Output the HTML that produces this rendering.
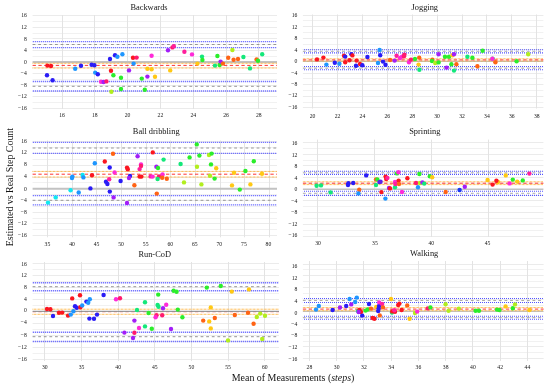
<!DOCTYPE html>
<html lang="en"><head><meta charset="utf-8"><title>Bland-Altman step count plots</title>
<style>html,body{margin:0;padding:0;background:#fff}svg{display:block}text{font-family:"Liberation Serif",serif;fill:#151515}</style>
</head><body>
<svg width="550" height="387" viewBox="0 0 550 387">
<rect width="550" height="387" fill="#ffffff"/>
<g>
<line x1="32.6" x2="277" y1="108.5" y2="108.5" stroke="#ebebeb" stroke-width="1"/>
<line x1="32.6" x2="277" y1="102.5" y2="102.5" stroke="#f1f1f1" stroke-width="1"/>
<line x1="32.6" x2="277" y1="96.5" y2="96.5" stroke="#ebebeb" stroke-width="1"/>
<line x1="32.6" x2="277" y1="91.5" y2="91.5" stroke="#f1f1f1" stroke-width="1"/>
<line x1="32.6" x2="277" y1="85.5" y2="85.5" stroke="#ebebeb" stroke-width="1"/>
<line x1="32.6" x2="277" y1="79.5" y2="79.5" stroke="#f1f1f1" stroke-width="1"/>
<line x1="32.6" x2="277" y1="73.5" y2="73.5" stroke="#ebebeb" stroke-width="1"/>
<line x1="32.6" x2="277" y1="67.5" y2="67.5" stroke="#f1f1f1" stroke-width="1"/>
<line x1="32.6" x2="277" y1="56.5" y2="56.5" stroke="#f1f1f1" stroke-width="1"/>
<line x1="32.6" x2="277" y1="50.5" y2="50.5" stroke="#ebebeb" stroke-width="1"/>
<line x1="32.6" x2="277" y1="44.5" y2="44.5" stroke="#f1f1f1" stroke-width="1"/>
<line x1="32.6" x2="277" y1="38.5" y2="38.5" stroke="#ebebeb" stroke-width="1"/>
<line x1="32.6" x2="277" y1="33.5" y2="33.5" stroke="#f1f1f1" stroke-width="1"/>
<line x1="32.6" x2="277" y1="27.5" y2="27.5" stroke="#ebebeb" stroke-width="1"/>
<line x1="32.6" x2="277" y1="21.5" y2="21.5" stroke="#f1f1f1" stroke-width="1"/>
<line x1="32.6" x2="277" y1="15.5" y2="15.5" stroke="#ebebeb" stroke-width="1"/>
<line x1="62.5" x2="62.5" y1="15" y2="109" stroke="#e3e3e3" stroke-width="1"/>
<line x1="94.5" x2="94.5" y1="15" y2="109" stroke="#e3e3e3" stroke-width="1"/>
<line x1="127.5" x2="127.5" y1="15" y2="109" stroke="#e3e3e3" stroke-width="1"/>
<line x1="160.5" x2="160.5" y1="15" y2="109" stroke="#e3e3e3" stroke-width="1"/>
<line x1="193.5" x2="193.5" y1="15" y2="109" stroke="#e3e3e3" stroke-width="1"/>
<line x1="226.5" x2="226.5" y1="15" y2="109" stroke="#e3e3e3" stroke-width="1"/>
<line x1="258.5" x2="258.5" y1="15" y2="109" stroke="#e3e3e3" stroke-width="1"/>
<line x1="32.6" x2="277" y1="62" y2="62" stroke="#c2c2c2" stroke-width="1.9"/>
<line x1="32.6" x2="277" y1="44.5" y2="44.5" stroke="#969696" stroke-width="1.0" stroke-dasharray="2.8 2.8"/>
<line x1="32.6" x2="277" y1="41.6" y2="41.6" stroke="#5454ff" stroke-width="1.35" stroke-dasharray="1 1" stroke-dashoffset="1.8"/>
<line x1="32.6" x2="277" y1="47.6" y2="47.6" stroke="#5454ff" stroke-width="1.35" stroke-dasharray="1 1" stroke-dashoffset="1.8"/>
<line x1="32.6" x2="277" y1="86.3" y2="86.3" stroke="#969696" stroke-width="1.0" stroke-dasharray="2.8 2.8"/>
<line x1="32.6" x2="277" y1="81.5" y2="81.5" stroke="#5454ff" stroke-width="1.35" stroke-dasharray="1 1" stroke-dashoffset="1.8"/>
<line x1="32.6" x2="277" y1="91" y2="91" stroke="#5454ff" stroke-width="1.35" stroke-dasharray="1 1" stroke-dashoffset="1.8"/>
<line x1="32.6" x2="277" y1="63.3" y2="63.3" stroke="#ffa010" stroke-width="1" stroke-dasharray="0.7 0.66"/>
<line x1="32.6" x2="277" y1="68" y2="68" stroke="#ffa010" stroke-width="1" stroke-dasharray="0.7 0.66"/>
<line x1="32.6" x2="277" y1="65.4" y2="65.4" stroke="#ff3434" stroke-width="1" stroke-dasharray="3.3 2.5"/>
<circle cx="47.4" cy="65.6" r="2.2" fill="#fb1620"/>
<circle cx="51" cy="66" r="2.2" fill="#fb1620"/>
<circle cx="47" cy="75.2" r="2.2" fill="#2a1cf6"/>
<circle cx="52.6" cy="80.2" r="2.2" fill="#2a1cf6"/>
<circle cx="75.2" cy="68.8" r="2.2" fill="#1e96ff"/>
<circle cx="81" cy="65.8" r="2.2" fill="#2a1cf6"/>
<circle cx="91.6" cy="64.8" r="2.2" fill="#2a1cf6"/>
<circle cx="94.4" cy="65.2" r="2.2" fill="#2a1cf6"/>
<circle cx="95.2" cy="72.6" r="2.2" fill="#1e96ff"/>
<circle cx="97.8" cy="74.2" r="2.2" fill="#2a1cf6"/>
<circle cx="101" cy="81.7" r="2.2" fill="#ff2ad8"/>
<circle cx="103.6" cy="82" r="2.2" fill="#a21ef8"/>
<circle cx="106.4" cy="81.4" r="2.2" fill="#ff1a6e"/>
<circle cx="110" cy="59" r="2.2" fill="#2a1cf6"/>
<circle cx="111" cy="70.8" r="2.2" fill="#fb1620"/>
<circle cx="111.4" cy="91.8" r="2.2" fill="#b2ee1e"/>
<circle cx="113.4" cy="75.2" r="2.2" fill="#2bee2b"/>
<circle cx="115" cy="55.2" r="2.2" fill="#2a1cf6"/>
<circle cx="117.4" cy="56.8" r="2.2" fill="#1e96ff"/>
<circle cx="122.4" cy="54.2" r="2.2" fill="#1e96ff"/>
<circle cx="121" cy="77.8" r="2.2" fill="#2bee2b"/>
<circle cx="121" cy="89" r="2.2" fill="#2bee2b"/>
<circle cx="129" cy="70.4" r="2.2" fill="#a21ef8"/>
<circle cx="133" cy="57.8" r="2.2" fill="#fb1620"/>
<circle cx="136.6" cy="57.6" r="2.2" fill="#ff1a6e"/>
<circle cx="133.6" cy="63.6" r="2.2" fill="#1e96ff"/>
<circle cx="141.8" cy="78.6" r="2.2" fill="#2bee2b"/>
<circle cx="144.8" cy="89.8" r="2.2" fill="#2bee2b"/>
<circle cx="147.4" cy="76.6" r="2.2" fill="#a21ef8"/>
<circle cx="147.4" cy="68.8" r="2.2" fill="#ffc814"/>
<circle cx="151.6" cy="69.2" r="2.2" fill="#ffc814"/>
<circle cx="151.6" cy="55.8" r="2.2" fill="#ff2ad8"/>
<circle cx="155" cy="76.8" r="2.2" fill="#ffc814"/>
<circle cx="168" cy="50.2" r="2.2" fill="#a21ef8"/>
<circle cx="172.4" cy="47.4" r="2.2" fill="#ff1a6e"/>
<circle cx="173.8" cy="46.2" r="2.2" fill="#ff1f9c"/>
<circle cx="170.2" cy="70.4" r="2.2" fill="#ffc814"/>
<circle cx="184.4" cy="51.8" r="2.2" fill="#ff1f9c"/>
<circle cx="192" cy="54.4" r="2.2" fill="#ff2ad8"/>
<circle cx="197.4" cy="63.6" r="2.2" fill="#ffc814"/>
<circle cx="202" cy="56.6" r="2.2" fill="#14e87a"/>
<circle cx="202.4" cy="60" r="2.2" fill="#2bee2b"/>
<circle cx="215" cy="65.6" r="2.2" fill="#14e87a"/>
<circle cx="217.4" cy="56" r="2.2" fill="#2bee2b"/>
<circle cx="219.6" cy="65" r="2.2" fill="#2bee2b"/>
<circle cx="220.6" cy="61.6" r="2.2" fill="#a21ef8"/>
<circle cx="223" cy="63.6" r="2.2" fill="#ff6314"/>
<circle cx="228.2" cy="57.8" r="2.2" fill="#ff6314"/>
<circle cx="232.4" cy="50" r="2.2" fill="#b2ee1e"/>
<circle cx="233.6" cy="59.8" r="2.2" fill="#ff6314"/>
<circle cx="238" cy="59" r="2.2" fill="#ff6314"/>
<circle cx="243.4" cy="57" r="2.2" fill="#14e87a"/>
<circle cx="250" cy="68.4" r="2.2" fill="#14e87a"/>
<circle cx="256.6" cy="59.4" r="2.2" fill="#ff6314"/>
<circle cx="258" cy="60.8" r="2.2" fill="#2bee2b"/>
<circle cx="262.2" cy="54.2" r="2.2" fill="#14e87a"/>
<text transform="translate(26.8,17.38) scale(0.86,1)" font-size="6.6" text-anchor="end">16</text>
<text transform="translate(26.8,29.48) scale(0.86,1)" font-size="6.6" text-anchor="end">12</text>
<text transform="translate(26.8,40.78) scale(0.86,1)" font-size="6.6" text-anchor="end">8</text>
<text transform="translate(26.8,52.28) scale(0.86,1)" font-size="6.6" text-anchor="end">4</text>
<text transform="translate(26.8,63.78) scale(0.86,1)" font-size="6.6" text-anchor="end">0</text>
<text transform="translate(26.8,75.08) scale(0.86,1)" font-size="6.6" text-anchor="end">−4</text>
<text transform="translate(26.8,86.58) scale(0.86,1)" font-size="6.6" text-anchor="end">−8</text>
<text transform="translate(26.8,98.18) scale(0.86,1)" font-size="6.6" text-anchor="end">−12</text>
<text transform="translate(26.8,109.98) scale(0.86,1)" font-size="6.6" text-anchor="end">−16</text>
<text transform="translate(62,117.38) scale(0.86,1)" font-size="6.6" text-anchor="middle">16</text>
<text transform="translate(94.8,117.38) scale(0.86,1)" font-size="6.6" text-anchor="middle">18</text>
<text transform="translate(127.6,117.38) scale(0.86,1)" font-size="6.6" text-anchor="middle">20</text>
<text transform="translate(160.4,117.38) scale(0.86,1)" font-size="6.6" text-anchor="middle">22</text>
<text transform="translate(193.2,117.38) scale(0.86,1)" font-size="6.6" text-anchor="middle">24</text>
<text transform="translate(226,117.38) scale(0.86,1)" font-size="6.6" text-anchor="middle">26</text>
<text transform="translate(258.8,117.38) scale(0.86,1)" font-size="6.6" text-anchor="middle">28</text>
<text x="149" y="10.3" font-size="8.4" text-anchor="middle">Backwards</text>
</g>
<g>
<line x1="302.9" x2="543.4" y1="107.5" y2="107.5" stroke="#ebebeb" stroke-width="1"/>
<line x1="302.9" x2="543.4" y1="102.5" y2="102.5" stroke="#f1f1f1" stroke-width="1"/>
<line x1="302.9" x2="543.4" y1="96.5" y2="96.5" stroke="#ebebeb" stroke-width="1"/>
<line x1="302.9" x2="543.4" y1="90.5" y2="90.5" stroke="#f1f1f1" stroke-width="1"/>
<line x1="302.9" x2="543.4" y1="84.5" y2="84.5" stroke="#ebebeb" stroke-width="1"/>
<line x1="302.9" x2="543.4" y1="78.5" y2="78.5" stroke="#f1f1f1" stroke-width="1"/>
<line x1="302.9" x2="543.4" y1="73.5" y2="73.5" stroke="#ebebeb" stroke-width="1"/>
<line x1="302.9" x2="543.4" y1="67.5" y2="67.5" stroke="#f1f1f1" stroke-width="1"/>
<line x1="302.9" x2="543.4" y1="55.5" y2="55.5" stroke="#f1f1f1" stroke-width="1"/>
<line x1="302.9" x2="543.4" y1="49.5" y2="49.5" stroke="#ebebeb" stroke-width="1"/>
<line x1="302.9" x2="543.4" y1="44.5" y2="44.5" stroke="#f1f1f1" stroke-width="1"/>
<line x1="302.9" x2="543.4" y1="38.5" y2="38.5" stroke="#ebebeb" stroke-width="1"/>
<line x1="302.9" x2="543.4" y1="32.5" y2="32.5" stroke="#f1f1f1" stroke-width="1"/>
<line x1="302.9" x2="543.4" y1="26.5" y2="26.5" stroke="#ebebeb" stroke-width="1"/>
<line x1="302.9" x2="543.4" y1="20.5" y2="20.5" stroke="#f1f1f1" stroke-width="1"/>
<line x1="302.9" x2="543.4" y1="15.5" y2="15.5" stroke="#ebebeb" stroke-width="1"/>
<line x1="312.5" x2="312.5" y1="14.5" y2="108.5" stroke="#e3e3e3" stroke-width="1"/>
<line x1="337.5" x2="337.5" y1="14.5" y2="108.5" stroke="#e3e3e3" stroke-width="1"/>
<line x1="362.5" x2="362.5" y1="14.5" y2="108.5" stroke="#e3e3e3" stroke-width="1"/>
<line x1="387.5" x2="387.5" y1="14.5" y2="108.5" stroke="#e3e3e3" stroke-width="1"/>
<line x1="412.5" x2="412.5" y1="14.5" y2="108.5" stroke="#e3e3e3" stroke-width="1"/>
<line x1="437.5" x2="437.5" y1="14.5" y2="108.5" stroke="#e3e3e3" stroke-width="1"/>
<line x1="462.5" x2="462.5" y1="14.5" y2="108.5" stroke="#e3e3e3" stroke-width="1"/>
<line x1="486.5" x2="486.5" y1="14.5" y2="108.5" stroke="#e3e3e3" stroke-width="1"/>
<line x1="511.5" x2="511.5" y1="14.5" y2="108.5" stroke="#e3e3e3" stroke-width="1"/>
<line x1="536.5" x2="536.5" y1="14.5" y2="108.5" stroke="#e3e3e3" stroke-width="1"/>
<line x1="302.9" x2="543.4" y1="61.4" y2="61.4" stroke="#c2c2c2" stroke-width="1.4"/>
<line x1="302.9" x2="543.4" y1="51.3" y2="51.3" stroke="#969696" stroke-width="0.8" stroke-dasharray="2.8 2.8"/>
<line x1="302.9" x2="543.4" y1="49.7" y2="49.7" stroke="#5454ff" stroke-width="1.1" stroke-dasharray="1 1" stroke-dashoffset="0.9"/>
<line x1="302.9" x2="543.4" y1="52.9" y2="52.9" stroke="#5454ff" stroke-width="1.1" stroke-dasharray="1 1" stroke-dashoffset="0.9"/>
<line x1="302.9" x2="543.4" y1="68.2" y2="68.2" stroke="#969696" stroke-width="0.8" stroke-dasharray="2.8 2.8"/>
<line x1="302.9" x2="543.4" y1="66.5" y2="66.5" stroke="#5454ff" stroke-width="1.1" stroke-dasharray="1 1" stroke-dashoffset="0.9"/>
<line x1="302.9" x2="543.4" y1="69.8" y2="69.8" stroke="#5454ff" stroke-width="1.1" stroke-dasharray="1 1" stroke-dashoffset="0.9"/>
<line x1="302.9" x2="543.4" y1="58.8" y2="58.8" stroke="#ffa010" stroke-width="1" stroke-dasharray="0.7 0.66"/>
<line x1="302.9" x2="543.4" y1="61" y2="61" stroke="#ffa010" stroke-width="1" stroke-dasharray="0.7 0.66"/>
<line x1="302.9" x2="543.4" y1="59.9" y2="59.9" stroke="#ff3434" stroke-width="1" stroke-dasharray="3.3 2.5"/>
<circle cx="317" cy="59.4" r="2.2" fill="#fb1620"/>
<circle cx="323.4" cy="57.6" r="2.2" fill="#fb1620"/>
<circle cx="326.4" cy="64.6" r="2.2" fill="#1e96ff"/>
<circle cx="334.8" cy="62.8" r="2.2" fill="#2a1cf6"/>
<circle cx="339.4" cy="63.8" r="2.2" fill="#1e96ff"/>
<circle cx="344" cy="55.8" r="2.2" fill="#fb1620"/>
<circle cx="345.2" cy="56.6" r="2.2" fill="#2a1cf6"/>
<circle cx="345.2" cy="62.2" r="2.2" fill="#fb1620"/>
<circle cx="349.4" cy="60.2" r="2.2" fill="#fb1620"/>
<circle cx="351.4" cy="54.2" r="2.2" fill="#2a1cf6"/>
<circle cx="352.4" cy="55.4" r="2.2" fill="#fb1620"/>
<circle cx="356" cy="65.8" r="2.2" fill="#2a1cf6"/>
<circle cx="356.6" cy="60.6" r="2.2" fill="#fb1620"/>
<circle cx="360" cy="64" r="2.2" fill="#fb1620"/>
<circle cx="362.4" cy="65.2" r="2.2" fill="#2a1cf6"/>
<circle cx="367.4" cy="57" r="2.2" fill="#2a1cf6"/>
<circle cx="378" cy="63" r="2.2" fill="#1e96ff"/>
<circle cx="379.6" cy="50" r="2.2" fill="#1e96ff"/>
<circle cx="380.2" cy="55.3" r="2.2" fill="#2a1cf6"/>
<circle cx="383" cy="61.6" r="2.2" fill="#2a1cf6"/>
<circle cx="385.5" cy="64.8" r="2.2" fill="#2a1cf6"/>
<circle cx="390" cy="60" r="2.2" fill="#ff6314"/>
<circle cx="394.6" cy="60.6" r="2.2" fill="#a21ef8"/>
<circle cx="396.6" cy="55.8" r="2.2" fill="#ff1f9c"/>
<circle cx="400" cy="58" r="2.2" fill="#ff2ad8"/>
<circle cx="402" cy="56.6" r="2.2" fill="#ff2ad8"/>
<circle cx="404.4" cy="54.6" r="2.2" fill="#ff1a6e"/>
<circle cx="404" cy="56.2" r="2.2" fill="#ff1a6e"/>
<circle cx="409" cy="62.2" r="2.2" fill="#ff2ad8"/>
<circle cx="411" cy="59.6" r="2.2" fill="#ff1a6e"/>
<circle cx="415" cy="59" r="2.2" fill="#2bee2b"/>
<circle cx="419.2" cy="57.6" r="2.2" fill="#ff6314"/>
<circle cx="418.6" cy="64.6" r="2.2" fill="#ffc814"/>
<circle cx="419.4" cy="69.8" r="2.2" fill="#14e87a"/>
<circle cx="432.4" cy="59.8" r="2.2" fill="#ff6314"/>
<circle cx="432" cy="61" r="2.2" fill="#2bee2b"/>
<circle cx="435.2" cy="63" r="2.2" fill="#b2ee1e"/>
<circle cx="438.6" cy="62.4" r="2.2" fill="#2bee2b"/>
<circle cx="438.6" cy="54.2" r="2.2" fill="#a21ef8"/>
<circle cx="445" cy="56.8" r="2.2" fill="#2bee2b"/>
<circle cx="449" cy="56.8" r="2.2" fill="#2bee2b"/>
<circle cx="446.6" cy="67.6" r="2.2" fill="#a21ef8"/>
<circle cx="452.4" cy="55.2" r="2.2" fill="#ffc814"/>
<circle cx="454" cy="54.2" r="2.2" fill="#a21ef8"/>
<circle cx="451.4" cy="64.2" r="2.2" fill="#2bee2b"/>
<circle cx="454" cy="70.6" r="2.2" fill="#14e87a"/>
<circle cx="456.4" cy="64.2" r="2.2" fill="#ff6314"/>
<circle cx="467.4" cy="56.8" r="2.2" fill="#14e87a"/>
<circle cx="472.4" cy="57.8" r="2.2" fill="#2bee2b"/>
<circle cx="477.4" cy="66.2" r="2.2" fill="#ff6314"/>
<circle cx="482.6" cy="50.8" r="2.2" fill="#2bee2b"/>
<circle cx="492.6" cy="58.6" r="2.2" fill="#14e87a"/>
<circle cx="492.4" cy="58.8" r="2.2" fill="#ff2ad8"/>
<circle cx="495.4" cy="62.2" r="2.2" fill="#ff6314"/>
<circle cx="516.6" cy="61.2" r="2.2" fill="#2bee2b"/>
<circle cx="528.2" cy="54.2" r="2.2" fill="#b2ee1e"/>
<text transform="translate(297.4,16.98) scale(0.86,1)" font-size="6.6" text-anchor="end">16</text>
<text transform="translate(297.4,28.78) scale(0.86,1)" font-size="6.6" text-anchor="end">12</text>
<text transform="translate(297.4,40.18) scale(0.86,1)" font-size="6.6" text-anchor="end">8</text>
<text transform="translate(297.4,51.78) scale(0.86,1)" font-size="6.6" text-anchor="end">4</text>
<text transform="translate(297.4,63.18) scale(0.86,1)" font-size="6.6" text-anchor="end">0</text>
<text transform="translate(297.4,74.58) scale(0.86,1)" font-size="6.6" text-anchor="end">−4</text>
<text transform="translate(297.4,85.78) scale(0.86,1)" font-size="6.6" text-anchor="end">−8</text>
<text transform="translate(297.4,97.18) scale(0.86,1)" font-size="6.6" text-anchor="end">−12</text>
<text transform="translate(297.4,108.98) scale(0.86,1)" font-size="6.6" text-anchor="end">−16</text>
<text transform="translate(312.6,117.58) scale(0.86,1)" font-size="6.6" text-anchor="middle">20</text>
<text transform="translate(337.5,117.58) scale(0.86,1)" font-size="6.6" text-anchor="middle">22</text>
<text transform="translate(362.4,117.58) scale(0.86,1)" font-size="6.6" text-anchor="middle">24</text>
<text transform="translate(387.3,117.58) scale(0.86,1)" font-size="6.6" text-anchor="middle">26</text>
<text transform="translate(412.2,117.58) scale(0.86,1)" font-size="6.6" text-anchor="middle">28</text>
<text transform="translate(437.1,117.58) scale(0.86,1)" font-size="6.6" text-anchor="middle">30</text>
<text transform="translate(462,117.58) scale(0.86,1)" font-size="6.6" text-anchor="middle">32</text>
<text transform="translate(486.9,117.58) scale(0.86,1)" font-size="6.6" text-anchor="middle">34</text>
<text transform="translate(511.8,117.58) scale(0.86,1)" font-size="6.6" text-anchor="middle">36</text>
<text transform="translate(536.7,117.58) scale(0.86,1)" font-size="6.6" text-anchor="middle">38</text>
<text x="424.8" y="10.2" font-size="8.4" text-anchor="middle">Jogging</text>
</g>
<g>
<line x1="32.6" x2="277" y1="235.5" y2="235.5" stroke="#ebebeb" stroke-width="1"/>
<line x1="32.6" x2="277" y1="229.5" y2="229.5" stroke="#f1f1f1" stroke-width="1"/>
<line x1="32.6" x2="277" y1="223.5" y2="223.5" stroke="#ebebeb" stroke-width="1"/>
<line x1="32.6" x2="277" y1="218.5" y2="218.5" stroke="#f1f1f1" stroke-width="1"/>
<line x1="32.6" x2="277" y1="212.5" y2="212.5" stroke="#ebebeb" stroke-width="1"/>
<line x1="32.6" x2="277" y1="206.5" y2="206.5" stroke="#f1f1f1" stroke-width="1"/>
<line x1="32.6" x2="277" y1="200.5" y2="200.5" stroke="#ebebeb" stroke-width="1"/>
<line x1="32.6" x2="277" y1="194.5" y2="194.5" stroke="#f1f1f1" stroke-width="1"/>
<line x1="32.6" x2="277" y1="182.5" y2="182.5" stroke="#f1f1f1" stroke-width="1"/>
<line x1="32.6" x2="277" y1="177.5" y2="177.5" stroke="#ebebeb" stroke-width="1"/>
<line x1="32.6" x2="277" y1="171.5" y2="171.5" stroke="#f1f1f1" stroke-width="1"/>
<line x1="32.6" x2="277" y1="165.5" y2="165.5" stroke="#ebebeb" stroke-width="1"/>
<line x1="32.6" x2="277" y1="159.5" y2="159.5" stroke="#f1f1f1" stroke-width="1"/>
<line x1="32.6" x2="277" y1="153.5" y2="153.5" stroke="#ebebeb" stroke-width="1"/>
<line x1="32.6" x2="277" y1="147.5" y2="147.5" stroke="#f1f1f1" stroke-width="1"/>
<line x1="32.6" x2="277" y1="141.5" y2="141.5" stroke="#ebebeb" stroke-width="1"/>
<line x1="47.5" x2="47.5" y1="140.5" y2="237.3" stroke="#e3e3e3" stroke-width="1"/>
<line x1="72.5" x2="72.5" y1="140.5" y2="237.3" stroke="#e3e3e3" stroke-width="1"/>
<line x1="96.5" x2="96.5" y1="140.5" y2="237.3" stroke="#e3e3e3" stroke-width="1"/>
<line x1="121.5" x2="121.5" y1="140.5" y2="237.3" stroke="#e3e3e3" stroke-width="1"/>
<line x1="146.5" x2="146.5" y1="140.5" y2="237.3" stroke="#e3e3e3" stroke-width="1"/>
<line x1="170.5" x2="170.5" y1="140.5" y2="237.3" stroke="#e3e3e3" stroke-width="1"/>
<line x1="195.5" x2="195.5" y1="140.5" y2="237.3" stroke="#e3e3e3" stroke-width="1"/>
<line x1="220.5" x2="220.5" y1="140.5" y2="237.3" stroke="#e3e3e3" stroke-width="1"/>
<line x1="244.5" x2="244.5" y1="140.5" y2="237.3" stroke="#e3e3e3" stroke-width="1"/>
<line x1="269.5" x2="269.5" y1="140.5" y2="237.3" stroke="#e3e3e3" stroke-width="1"/>
<line x1="32.6" x2="277" y1="188.8" y2="188.8" stroke="#c2c2c2" stroke-width="1.9"/>
<line x1="32.6" x2="277" y1="148" y2="148" stroke="#969696" stroke-width="1.0" stroke-dasharray="2.8 2.8"/>
<line x1="32.6" x2="277" y1="142.4" y2="142.4" stroke="#5454ff" stroke-width="1.35" stroke-dasharray="1 1" stroke-dashoffset="1.8"/>
<line x1="32.6" x2="277" y1="153.4" y2="153.4" stroke="#5454ff" stroke-width="1.35" stroke-dasharray="1 1" stroke-dashoffset="1.8"/>
<line x1="32.6" x2="277" y1="200.3" y2="200.3" stroke="#969696" stroke-width="1.0" stroke-dasharray="2.8 2.8"/>
<line x1="32.6" x2="277" y1="195.6" y2="195.6" stroke="#5454ff" stroke-width="1.35" stroke-dasharray="1 1" stroke-dashoffset="1.8"/>
<line x1="32.6" x2="277" y1="204.8" y2="204.8" stroke="#5454ff" stroke-width="1.35" stroke-dasharray="1 1" stroke-dashoffset="1.8"/>
<line x1="32.6" x2="277" y1="171.4" y2="171.4" stroke="#ffa010" stroke-width="1" stroke-dasharray="0.7 0.66"/>
<line x1="32.6" x2="277" y1="177" y2="177" stroke="#ffa010" stroke-width="1" stroke-dasharray="0.7 0.66"/>
<line x1="32.6" x2="277" y1="174.2" y2="174.2" stroke="#ff3434" stroke-width="1" stroke-dasharray="3.3 2.5"/>
<circle cx="48" cy="202.6" r="2.2" fill="#10e8f0"/>
<circle cx="55.7" cy="197.4" r="2.2" fill="#10e8f0"/>
<circle cx="70.6" cy="190.2" r="2.2" fill="#10e8f0"/>
<circle cx="72.4" cy="176.6" r="2.2" fill="#1e96ff"/>
<circle cx="72" cy="178" r="2.2" fill="#1e96ff"/>
<circle cx="78.7" cy="192.5" r="2.2" fill="#1e96ff"/>
<circle cx="82.6" cy="175" r="2.2" fill="#10e8f0"/>
<circle cx="83.4" cy="177.4" r="2.2" fill="#1e96ff"/>
<circle cx="90.4" cy="188.4" r="2.2" fill="#2a1cf6"/>
<circle cx="92" cy="175.2" r="2.2" fill="#fb1620"/>
<circle cx="94.8" cy="163.2" r="2.2" fill="#1e96ff"/>
<circle cx="104.8" cy="161.5" r="2.2" fill="#fb1620"/>
<circle cx="109.7" cy="167.5" r="2.2" fill="#2a1cf6"/>
<circle cx="106" cy="181.7" r="2.2" fill="#2a1cf6"/>
<circle cx="107.4" cy="184" r="2.2" fill="#2a1cf6"/>
<circle cx="109.2" cy="179.2" r="2.2" fill="#ff1f9c"/>
<circle cx="109.8" cy="191.6" r="2.2" fill="#2a1cf6"/>
<circle cx="113" cy="153.8" r="2.2" fill="#ff6314"/>
<circle cx="114.6" cy="172.4" r="2.2" fill="#ff2ad8"/>
<circle cx="113.6" cy="197.4" r="2.2" fill="#a21ef8"/>
<circle cx="120.6" cy="181" r="2.2" fill="#2a1cf6"/>
<circle cx="127" cy="167.6" r="2.2" fill="#fb1620"/>
<circle cx="127.8" cy="169.2" r="2.2" fill="#fb1620"/>
<circle cx="130" cy="176" r="2.2" fill="#2a1cf6"/>
<circle cx="129" cy="178" r="2.2" fill="#a21ef8"/>
<circle cx="127" cy="203" r="2.2" fill="#a21ef8"/>
<circle cx="134.4" cy="185.2" r="2.2" fill="#ff6314"/>
<circle cx="137.6" cy="156.3" r="2.2" fill="#a21ef8"/>
<circle cx="141" cy="164.4" r="2.2" fill="#ff2ad8"/>
<circle cx="141" cy="166" r="2.2" fill="#ff1a6e"/>
<circle cx="139.6" cy="169.1" r="2.2" fill="#ff1f9c"/>
<circle cx="139.6" cy="176.6" r="2.2" fill="#fb1620"/>
<circle cx="141.4" cy="176.6" r="2.2" fill="#fb1620"/>
<circle cx="152.8" cy="152.4" r="2.2" fill="#fb1620"/>
<circle cx="150.6" cy="176.4" r="2.2" fill="#ff1f9c"/>
<circle cx="152.6" cy="176.6" r="2.2" fill="#ff2ad8"/>
<circle cx="156.4" cy="166.8" r="2.2" fill="#a21ef8"/>
<circle cx="158" cy="168" r="2.2" fill="#2bee2b"/>
<circle cx="163.6" cy="159.6" r="2.2" fill="#14e87a"/>
<circle cx="162.6" cy="174.4" r="2.2" fill="#ff2ad8"/>
<circle cx="159" cy="176.4" r="2.2" fill="#ff1a6e"/>
<circle cx="157.6" cy="179" r="2.2" fill="#14e87a"/>
<circle cx="162.2" cy="177.8" r="2.2" fill="#ff6314"/>
<circle cx="166.8" cy="178.8" r="2.2" fill="#ff6314"/>
<circle cx="156.8" cy="193.6" r="2.2" fill="#ff6314"/>
<circle cx="180.6" cy="164" r="2.2" fill="#14e87a"/>
<circle cx="184" cy="182.4" r="2.2" fill="#b2ee1e"/>
<circle cx="189.6" cy="157.4" r="2.2" fill="#2bee2b"/>
<circle cx="196.8" cy="144.4" r="2.2" fill="#2bee2b"/>
<circle cx="199.4" cy="155.6" r="2.2" fill="#2bee2b"/>
<circle cx="197" cy="166.7" r="2.2" fill="#b2ee1e"/>
<circle cx="201.4" cy="184.4" r="2.2" fill="#b2ee1e"/>
<circle cx="209" cy="155" r="2.2" fill="#b2ee1e"/>
<circle cx="211.6" cy="153.6" r="2.2" fill="#2bee2b"/>
<circle cx="211" cy="164.4" r="2.2" fill="#2bee2b"/>
<circle cx="210" cy="175.7" r="2.2" fill="#b2ee1e"/>
<circle cx="214.6" cy="178.6" r="2.2" fill="#2bee2b"/>
<circle cx="216.2" cy="168.2" r="2.2" fill="#ffc814"/>
<circle cx="234" cy="172.8" r="2.2" fill="#ffc814"/>
<circle cx="232" cy="185.4" r="2.2" fill="#ffc814"/>
<circle cx="239.8" cy="189.6" r="2.2" fill="#2bee2b"/>
<circle cx="245.4" cy="171" r="2.2" fill="#2bee2b"/>
<circle cx="250.4" cy="184.4" r="2.2" fill="#ffc814"/>
<circle cx="253.8" cy="161.2" r="2.2" fill="#2bee2b"/>
<circle cx="262" cy="173.8" r="2.2" fill="#ffc814"/>
<text transform="translate(26.8,142.78) scale(0.86,1)" font-size="6.6" text-anchor="end">16</text>
<text transform="translate(26.8,154.18) scale(0.86,1)" font-size="6.6" text-anchor="end">12</text>
<text transform="translate(26.8,166.18) scale(0.86,1)" font-size="6.6" text-anchor="end">8</text>
<text transform="translate(26.8,177.98) scale(0.86,1)" font-size="6.6" text-anchor="end">4</text>
<text transform="translate(26.8,190.58) scale(0.86,1)" font-size="6.6" text-anchor="end">0</text>
<text transform="translate(26.8,201.78) scale(0.86,1)" font-size="6.6" text-anchor="end">−4</text>
<text transform="translate(26.8,213.58) scale(0.86,1)" font-size="6.6" text-anchor="end">−8</text>
<text transform="translate(26.8,225.38) scale(0.86,1)" font-size="6.6" text-anchor="end">−12</text>
<text transform="translate(26.8,237.18) scale(0.86,1)" font-size="6.6" text-anchor="end">−16</text>
<text transform="translate(47.4,245.98) scale(0.86,1)" font-size="6.6" text-anchor="middle">35</text>
<text transform="translate(71.96,245.98) scale(0.86,1)" font-size="6.6" text-anchor="middle">40</text>
<text transform="translate(96.52,245.98) scale(0.86,1)" font-size="6.6" text-anchor="middle">45</text>
<text transform="translate(121.08,245.98) scale(0.86,1)" font-size="6.6" text-anchor="middle">50</text>
<text transform="translate(145.64,245.98) scale(0.86,1)" font-size="6.6" text-anchor="middle">55</text>
<text transform="translate(170.2,245.98) scale(0.86,1)" font-size="6.6" text-anchor="middle">60</text>
<text transform="translate(194.76,245.98) scale(0.86,1)" font-size="6.6" text-anchor="middle">65</text>
<text transform="translate(219.32,245.98) scale(0.86,1)" font-size="6.6" text-anchor="middle">70</text>
<text transform="translate(243.88,245.98) scale(0.86,1)" font-size="6.6" text-anchor="middle">75</text>
<text transform="translate(268.44,245.98) scale(0.86,1)" font-size="6.6" text-anchor="middle">80</text>
<text x="156.2" y="133.9" font-size="8.4" text-anchor="middle">Ball dribbling</text>
</g>
<g>
<line x1="302.9" x2="543.4" y1="236.5" y2="236.5" stroke="#ebebeb" stroke-width="1"/>
<line x1="302.9" x2="543.4" y1="230.5" y2="230.5" stroke="#f1f1f1" stroke-width="1"/>
<line x1="302.9" x2="543.4" y1="224.5" y2="224.5" stroke="#ebebeb" stroke-width="1"/>
<line x1="302.9" x2="543.4" y1="218.5" y2="218.5" stroke="#f1f1f1" stroke-width="1"/>
<line x1="302.9" x2="543.4" y1="212.5" y2="212.5" stroke="#ebebeb" stroke-width="1"/>
<line x1="302.9" x2="543.4" y1="206.5" y2="206.5" stroke="#f1f1f1" stroke-width="1"/>
<line x1="302.9" x2="543.4" y1="200.5" y2="200.5" stroke="#ebebeb" stroke-width="1"/>
<line x1="302.9" x2="543.4" y1="195.5" y2="195.5" stroke="#f1f1f1" stroke-width="1"/>
<line x1="302.9" x2="543.4" y1="183.5" y2="183.5" stroke="#f1f1f1" stroke-width="1"/>
<line x1="302.9" x2="543.4" y1="177.5" y2="177.5" stroke="#ebebeb" stroke-width="1"/>
<line x1="302.9" x2="543.4" y1="171.5" y2="171.5" stroke="#f1f1f1" stroke-width="1"/>
<line x1="302.9" x2="543.4" y1="165.5" y2="165.5" stroke="#ebebeb" stroke-width="1"/>
<line x1="302.9" x2="543.4" y1="160.5" y2="160.5" stroke="#f1f1f1" stroke-width="1"/>
<line x1="302.9" x2="543.4" y1="154.5" y2="154.5" stroke="#ebebeb" stroke-width="1"/>
<line x1="302.9" x2="543.4" y1="148.5" y2="148.5" stroke="#f1f1f1" stroke-width="1"/>
<line x1="302.9" x2="543.4" y1="142.5" y2="142.5" stroke="#ebebeb" stroke-width="1"/>
<line x1="317.5" x2="317.5" y1="139.6" y2="237" stroke="#e3e3e3" stroke-width="1"/>
<line x1="374.5" x2="374.5" y1="139.6" y2="237" stroke="#e3e3e3" stroke-width="1"/>
<line x1="431.5" x2="431.5" y1="139.6" y2="237" stroke="#e3e3e3" stroke-width="1"/>
<line x1="488.5" x2="488.5" y1="139.6" y2="237" stroke="#e3e3e3" stroke-width="1"/>
<line x1="302.9" x2="543.4" y1="189.3" y2="189.3" stroke="#c2c2c2" stroke-width="1.4"/>
<line x1="302.9" x2="543.4" y1="172.8" y2="172.8" stroke="#969696" stroke-width="0.8" stroke-dasharray="2.8 2.8"/>
<line x1="302.9" x2="543.4" y1="171.3" y2="171.3" stroke="#5454ff" stroke-width="1.1" stroke-dasharray="1 1" stroke-dashoffset="0.9"/>
<line x1="302.9" x2="543.4" y1="174.4" y2="174.4" stroke="#5454ff" stroke-width="1.1" stroke-dasharray="1 1" stroke-dashoffset="0.9"/>
<line x1="302.9" x2="543.4" y1="193.3" y2="193.3" stroke="#969696" stroke-width="0.8" stroke-dasharray="2.8 2.8"/>
<line x1="302.9" x2="543.4" y1="191.3" y2="191.3" stroke="#5454ff" stroke-width="1.1" stroke-dasharray="1 1" stroke-dashoffset="0.9"/>
<line x1="302.9" x2="543.4" y1="195.4" y2="195.4" stroke="#5454ff" stroke-width="1.1" stroke-dasharray="1 1" stroke-dashoffset="0.9"/>
<line x1="302.9" x2="543.4" y1="181.8" y2="181.8" stroke="#ffa010" stroke-width="1" stroke-dasharray="0.7 0.66"/>
<line x1="302.9" x2="543.4" y1="184.6" y2="184.6" stroke="#ffa010" stroke-width="1" stroke-dasharray="0.7 0.66"/>
<line x1="302.9" x2="543.4" y1="183.2" y2="183.2" stroke="#ff3434" stroke-width="1" stroke-dasharray="3.3 2.5"/>
<circle cx="316.6" cy="185.8" r="2.2" fill="#14e87a"/>
<circle cx="321" cy="185.4" r="2.2" fill="#14e87a"/>
<circle cx="330.6" cy="192.4" r="2.2" fill="#14e87a"/>
<circle cx="348" cy="185" r="2.2" fill="#2a1cf6"/>
<circle cx="348.4" cy="183.2" r="2.2" fill="#2a1cf6"/>
<circle cx="353.2" cy="183" r="2.2" fill="#2a1cf6"/>
<circle cx="359.2" cy="189.8" r="2.2" fill="#ff6314"/>
<circle cx="358.4" cy="193.4" r="2.2" fill="#1e96ff"/>
<circle cx="366.2" cy="175.4" r="2.2" fill="#2a1cf6"/>
<circle cx="376" cy="179.4" r="2.2" fill="#ff6314"/>
<circle cx="377.4" cy="179.4" r="2.2" fill="#2bee2b"/>
<circle cx="376" cy="185" r="2.2" fill="#14e87a"/>
<circle cx="379.4" cy="182.1" r="2.2" fill="#5a22ea"/>
<circle cx="380.6" cy="181.7" r="2.2" fill="#5a22ea"/>
<circle cx="385.6" cy="176.6" r="2.2" fill="#fb1620"/>
<circle cx="386.2" cy="179" r="2.2" fill="#fb1620"/>
<circle cx="387.4" cy="177.9" r="2.2" fill="#ff1f9c"/>
<circle cx="381.4" cy="192.1" r="2.2" fill="#fb1620"/>
<circle cx="385.4" cy="198.6" r="2.2" fill="#1e96ff"/>
<circle cx="389" cy="188" r="2.2" fill="#a21ef8"/>
<circle cx="390" cy="188.4" r="2.2" fill="#fb1620"/>
<circle cx="395" cy="187.2" r="2.2" fill="#14e87a"/>
<circle cx="395" cy="182" r="2.2" fill="#ff2ad8"/>
<circle cx="395.4" cy="184" r="2.2" fill="#ff1f9c"/>
<circle cx="397" cy="173.4" r="2.2" fill="#2bee2b"/>
<circle cx="398.4" cy="172.2" r="2.2" fill="#ff2ad8"/>
<circle cx="398.6" cy="180.6" r="2.2" fill="#fb1620"/>
<circle cx="399" cy="184" r="2.2" fill="#ff6314"/>
<circle cx="407.4" cy="178.2" r="2.2" fill="#fb1620"/>
<circle cx="402" cy="192" r="2.2" fill="#ff2ad8"/>
<circle cx="419.4" cy="174" r="2.2" fill="#2bee2b"/>
<circle cx="416" cy="183" r="2.2" fill="#ff1a6e"/>
<circle cx="418" cy="187.2" r="2.2" fill="#1e96ff"/>
<circle cx="420" cy="183" r="2.2" fill="#b2ee1e"/>
<circle cx="422.4" cy="182.4" r="2.2" fill="#a21ef8"/>
<circle cx="424.2" cy="183.6" r="2.2" fill="#14e87a"/>
<circle cx="429.8" cy="176.2" r="2.2" fill="#2bee2b"/>
<circle cx="432.2" cy="177.2" r="2.2" fill="#ffc814"/>
<circle cx="445.7" cy="192" r="2.2" fill="#ff6314"/>
<circle cx="459.6" cy="190" r="2.2" fill="#1838f4"/>
<circle cx="464.8" cy="186.8" r="2.2" fill="#a21ef8"/>
<circle cx="487.6" cy="180" r="2.2" fill="#ffc814"/>
<circle cx="492.6" cy="184.6" r="2.2" fill="#fb1620"/>
<circle cx="498" cy="182" r="2.2" fill="#ffc814"/>
<circle cx="496.4" cy="180.8" r="2.2" fill="#fb1620"/>
<circle cx="505.8" cy="175.4" r="2.2" fill="#ffc814"/>
<circle cx="509.6" cy="183.4" r="2.2" fill="#ff2ad8"/>
<circle cx="512.8" cy="179.6" r="2.2" fill="#2bee2b"/>
<circle cx="517.2" cy="181.6" r="2.2" fill="#ffc814"/>
<circle cx="522.8" cy="180.4" r="2.2" fill="#2bee2b"/>
<circle cx="529.4" cy="173.6" r="2.2" fill="#ff1f9c"/>
<text transform="translate(297.4,144.98) scale(0.86,1)" font-size="6.6" text-anchor="end">16</text>
<text transform="translate(297.4,157.18) scale(0.86,1)" font-size="6.6" text-anchor="end">12</text>
<text transform="translate(297.4,168.18) scale(0.86,1)" font-size="6.6" text-anchor="end">8</text>
<text transform="translate(297.4,179.78) scale(0.86,1)" font-size="6.6" text-anchor="end">4</text>
<text transform="translate(297.4,191.28) scale(0.86,1)" font-size="6.6" text-anchor="end">0</text>
<text transform="translate(297.4,202.58) scale(0.86,1)" font-size="6.6" text-anchor="end">−4</text>
<text transform="translate(297.4,214.18) scale(0.86,1)" font-size="6.6" text-anchor="end">−8</text>
<text transform="translate(297.4,225.78) scale(0.86,1)" font-size="6.6" text-anchor="end">−12</text>
<text transform="translate(297.4,237.18) scale(0.86,1)" font-size="6.6" text-anchor="end">−16</text>
<text transform="translate(318,245.38) scale(0.86,1)" font-size="6.6" text-anchor="middle">30</text>
<text transform="translate(374.9,245.38) scale(0.86,1)" font-size="6.6" text-anchor="middle">35</text>
<text transform="translate(431.3,245.38) scale(0.86,1)" font-size="6.6" text-anchor="middle">40</text>
<text transform="translate(487.6,245.38) scale(0.86,1)" font-size="6.6" text-anchor="middle">45</text>
<text x="424.8" y="133.9" font-size="8.4" text-anchor="middle">Sprinting</text>
</g>
<g>
<line x1="32.6" x2="279" y1="359.5" y2="359.5" stroke="#ebebeb" stroke-width="1"/>
<line x1="32.6" x2="279" y1="353.5" y2="353.5" stroke="#f1f1f1" stroke-width="1"/>
<line x1="32.6" x2="279" y1="347.5" y2="347.5" stroke="#ebebeb" stroke-width="1"/>
<line x1="32.6" x2="279" y1="341.5" y2="341.5" stroke="#f1f1f1" stroke-width="1"/>
<line x1="32.6" x2="279" y1="335.5" y2="335.5" stroke="#ebebeb" stroke-width="1"/>
<line x1="32.6" x2="279" y1="329.5" y2="329.5" stroke="#f1f1f1" stroke-width="1"/>
<line x1="32.6" x2="279" y1="323.5" y2="323.5" stroke="#ebebeb" stroke-width="1"/>
<line x1="32.6" x2="279" y1="317.5" y2="317.5" stroke="#f1f1f1" stroke-width="1"/>
<line x1="32.6" x2="279" y1="305.5" y2="305.5" stroke="#f1f1f1" stroke-width="1"/>
<line x1="32.6" x2="279" y1="299.5" y2="299.5" stroke="#ebebeb" stroke-width="1"/>
<line x1="32.6" x2="279" y1="293.5" y2="293.5" stroke="#f1f1f1" stroke-width="1"/>
<line x1="32.6" x2="279" y1="287.5" y2="287.5" stroke="#ebebeb" stroke-width="1"/>
<line x1="32.6" x2="279" y1="281.5" y2="281.5" stroke="#f1f1f1" stroke-width="1"/>
<line x1="32.6" x2="279" y1="275.5" y2="275.5" stroke="#ebebeb" stroke-width="1"/>
<line x1="32.6" x2="279" y1="269.5" y2="269.5" stroke="#f1f1f1" stroke-width="1"/>
<line x1="32.6" x2="279" y1="263.5" y2="263.5" stroke="#ebebeb" stroke-width="1"/>
<line x1="44.5" x2="44.5" y1="262" y2="361" stroke="#e3e3e3" stroke-width="1"/>
<line x1="81.5" x2="81.5" y1="262" y2="361" stroke="#e3e3e3" stroke-width="1"/>
<line x1="118.5" x2="118.5" y1="262" y2="361" stroke="#e3e3e3" stroke-width="1"/>
<line x1="154.5" x2="154.5" y1="262" y2="361" stroke="#e3e3e3" stroke-width="1"/>
<line x1="191.5" x2="191.5" y1="262" y2="361" stroke="#e3e3e3" stroke-width="1"/>
<line x1="228.5" x2="228.5" y1="262" y2="361" stroke="#e3e3e3" stroke-width="1"/>
<line x1="264.5" x2="264.5" y1="262" y2="361" stroke="#e3e3e3" stroke-width="1"/>
<line x1="32.6" x2="279" y1="286.7" y2="286.7" stroke="#969696" stroke-width="1.0" stroke-dasharray="2.8 2.8"/>
<line x1="32.6" x2="279" y1="282.7" y2="282.7" stroke="#5454ff" stroke-width="1.35" stroke-dasharray="1 1" stroke-dashoffset="1.8"/>
<line x1="32.6" x2="279" y1="290.7" y2="290.7" stroke="#5454ff" stroke-width="1.35" stroke-dasharray="1 1" stroke-dashoffset="1.8"/>
<line x1="32.6" x2="279" y1="336.7" y2="336.7" stroke="#969696" stroke-width="1.0" stroke-dasharray="2.8 2.8"/>
<line x1="32.6" x2="279" y1="332.2" y2="332.2" stroke="#5454ff" stroke-width="1.35" stroke-dasharray="1 1" stroke-dashoffset="1.8"/>
<line x1="32.6" x2="279" y1="341.5" y2="341.5" stroke="#5454ff" stroke-width="1.35" stroke-dasharray="1 1" stroke-dashoffset="1.8"/>
<line x1="32.6" x2="279" y1="309.2" y2="309.2" stroke="#ffa010" stroke-width="1" stroke-dasharray="0.7 0.66"/>
<line x1="32.6" x2="279" y1="314.3" y2="314.3" stroke="#ffa010" stroke-width="1" stroke-dasharray="0.7 0.66"/>
<line x1="32.6" x2="279" y1="311.95" y2="311.95" stroke="#ff6a6a" stroke-width="1" stroke-dasharray="3.3 2.5" opacity="0.55"/>
<line x1="32.6" x2="279" y1="311.3" y2="311.3" stroke="#808080" stroke-width="1"/>
<circle cx="47" cy="309" r="2.2" fill="#fb1620"/>
<circle cx="50.4" cy="309.2" r="2.2" fill="#fb1620"/>
<circle cx="53" cy="316" r="2.2" fill="#2a1cf6"/>
<circle cx="59" cy="312.8" r="2.2" fill="#fb1620"/>
<circle cx="62.2" cy="312.6" r="2.2" fill="#fb1620"/>
<circle cx="68" cy="315.6" r="2.2" fill="#fb1620"/>
<circle cx="72.2" cy="298.4" r="2.2" fill="#fb1620"/>
<circle cx="70.8" cy="314.6" r="2.2" fill="#1e96ff"/>
<circle cx="73.4" cy="311.2" r="2.2" fill="#1e96ff"/>
<circle cx="75" cy="306.2" r="2.2" fill="#2a1cf6"/>
<circle cx="76.8" cy="307.8" r="2.2" fill="#2a1cf6"/>
<circle cx="80" cy="295.2" r="2.2" fill="#fb1620"/>
<circle cx="80.4" cy="307.2" r="2.2" fill="#fb1620"/>
<circle cx="82.2" cy="305.4" r="2.2" fill="#1e96ff"/>
<circle cx="86.4" cy="301.6" r="2.2" fill="#2a1cf6"/>
<circle cx="88.2" cy="302.8" r="2.2" fill="#1e96ff"/>
<circle cx="89.8" cy="299.2" r="2.2" fill="#1e96ff"/>
<circle cx="97" cy="314.6" r="2.2" fill="#2a1cf6"/>
<circle cx="103.6" cy="295" r="2.2" fill="#2a1cf6"/>
<circle cx="89.4" cy="318.6" r="2.2" fill="#2a1cf6"/>
<circle cx="94" cy="318.8" r="2.2" fill="#2a1cf6"/>
<circle cx="116" cy="299.2" r="2.2" fill="#ff2ad8"/>
<circle cx="120" cy="298.2" r="2.2" fill="#ff1a6e"/>
<circle cx="137" cy="310" r="2.2" fill="#14e87a"/>
<circle cx="145" cy="302.2" r="2.2" fill="#14e87a"/>
<circle cx="148.6" cy="313" r="2.2" fill="#2bee2b"/>
<circle cx="158.2" cy="294.6" r="2.2" fill="#2bee2b"/>
<circle cx="157.6" cy="305" r="2.2" fill="#14e87a"/>
<circle cx="158.5" cy="306.7" r="2.2" fill="#14e87a"/>
<circle cx="156.5" cy="315.2" r="2.2" fill="#ff1a6e"/>
<circle cx="155.6" cy="317.2" r="2.2" fill="#ff2ad8"/>
<circle cx="162.2" cy="315.3" r="2.2" fill="#ff1a6e"/>
<circle cx="163" cy="308.2" r="2.2" fill="#a21ef8"/>
<circle cx="166.2" cy="304.8" r="2.2" fill="#ff2ad8"/>
<circle cx="173.6" cy="290.8" r="2.2" fill="#2bee2b"/>
<circle cx="176.6" cy="291.8" r="2.2" fill="#2bee2b"/>
<circle cx="177.8" cy="309.6" r="2.2" fill="#2bee2b"/>
<circle cx="182.4" cy="317.2" r="2.2" fill="#2bee2b"/>
<circle cx="134.4" cy="320.6" r="2.2" fill="#a21ef8"/>
<circle cx="139" cy="328" r="2.2" fill="#ff2ad8"/>
<circle cx="145" cy="326.4" r="2.2" fill="#14e87a"/>
<circle cx="151.8" cy="328.8" r="2.2" fill="#2bee2b"/>
<circle cx="171" cy="329" r="2.2" fill="#a21ef8"/>
<circle cx="124.4" cy="332.6" r="2.2" fill="#a21ef8"/>
<circle cx="134.4" cy="332.8" r="2.2" fill="#ff1a6e"/>
<circle cx="133" cy="338" r="2.2" fill="#a21ef8"/>
<circle cx="206.8" cy="287.6" r="2.2" fill="#2bee2b"/>
<circle cx="220.8" cy="286" r="2.2" fill="#2bee2b"/>
<circle cx="231.8" cy="291.6" r="2.2" fill="#ffc814"/>
<circle cx="249" cy="289.4" r="2.2" fill="#ffc814"/>
<circle cx="210.8" cy="307.4" r="2.2" fill="#ffc814"/>
<circle cx="203.2" cy="320.6" r="2.2" fill="#ff6314"/>
<circle cx="209.2" cy="321.4" r="2.2" fill="#ffc814"/>
<circle cx="210.8" cy="328.4" r="2.2" fill="#ffc814"/>
<circle cx="214.8" cy="318" r="2.2" fill="#ff6314"/>
<circle cx="234.8" cy="315" r="2.2" fill="#ff6314"/>
<circle cx="248" cy="312.8" r="2.2" fill="#ff6314"/>
<circle cx="253.6" cy="323.8" r="2.2" fill="#ff6314"/>
<circle cx="256.8" cy="317" r="2.2" fill="#b2ee1e"/>
<circle cx="260.2" cy="313.6" r="2.2" fill="#b2ee1e"/>
<circle cx="265" cy="315.8" r="2.2" fill="#b2ee1e"/>
<circle cx="228" cy="340.4" r="2.2" fill="#b2ee1e"/>
<circle cx="262.2" cy="339" r="2.2" fill="#b2ee1e"/>
<text transform="translate(26.8,265.58) scale(0.86,1)" font-size="6.6" text-anchor="end">16</text>
<text transform="translate(26.8,277.18) scale(0.86,1)" font-size="6.6" text-anchor="end">12</text>
<text transform="translate(26.8,288.78) scale(0.86,1)" font-size="6.6" text-anchor="end">8</text>
<text transform="translate(26.8,300.58) scale(0.86,1)" font-size="6.6" text-anchor="end">4</text>
<text transform="translate(26.8,312.18) scale(0.86,1)" font-size="6.6" text-anchor="end">0</text>
<text transform="translate(26.8,324.18) scale(0.86,1)" font-size="6.6" text-anchor="end">−4</text>
<text transform="translate(26.8,336.58) scale(0.86,1)" font-size="6.6" text-anchor="end">−8</text>
<text transform="translate(26.8,348.58) scale(0.86,1)" font-size="6.6" text-anchor="end">−12</text>
<text transform="translate(26.8,361.18) scale(0.86,1)" font-size="6.6" text-anchor="end">−16</text>
<text transform="translate(44.8,368.98) scale(0.86,1)" font-size="6.6" text-anchor="middle">30</text>
<text transform="translate(81.46,368.98) scale(0.86,1)" font-size="6.6" text-anchor="middle">35</text>
<text transform="translate(118.12,368.98) scale(0.86,1)" font-size="6.6" text-anchor="middle">40</text>
<text transform="translate(154.78,368.98) scale(0.86,1)" font-size="6.6" text-anchor="middle">45</text>
<text transform="translate(191.44,368.98) scale(0.86,1)" font-size="6.6" text-anchor="middle">50</text>
<text transform="translate(228.1,368.98) scale(0.86,1)" font-size="6.6" text-anchor="middle">55</text>
<text transform="translate(264.76,368.98) scale(0.86,1)" font-size="6.6" text-anchor="middle">60</text>
<text x="154.7" y="257.3" font-size="8.4" text-anchor="middle">Run-CoD</text>
</g>
<g>
<line x1="302.9" x2="543.6" y1="358.5" y2="358.5" stroke="#ebebeb" stroke-width="1"/>
<line x1="302.9" x2="543.6" y1="352.5" y2="352.5" stroke="#f1f1f1" stroke-width="1"/>
<line x1="302.9" x2="543.6" y1="346.5" y2="346.5" stroke="#ebebeb" stroke-width="1"/>
<line x1="302.9" x2="543.6" y1="341.5" y2="341.5" stroke="#f1f1f1" stroke-width="1"/>
<line x1="302.9" x2="543.6" y1="335.5" y2="335.5" stroke="#ebebeb" stroke-width="1"/>
<line x1="302.9" x2="543.6" y1="329.5" y2="329.5" stroke="#f1f1f1" stroke-width="1"/>
<line x1="302.9" x2="543.6" y1="323.5" y2="323.5" stroke="#ebebeb" stroke-width="1"/>
<line x1="302.9" x2="543.6" y1="317.5" y2="317.5" stroke="#f1f1f1" stroke-width="1"/>
<line x1="302.9" x2="543.6" y1="305.5" y2="305.5" stroke="#f1f1f1" stroke-width="1"/>
<line x1="302.9" x2="543.6" y1="299.5" y2="299.5" stroke="#ebebeb" stroke-width="1"/>
<line x1="302.9" x2="543.6" y1="293.5" y2="293.5" stroke="#f1f1f1" stroke-width="1"/>
<line x1="302.9" x2="543.6" y1="287.5" y2="287.5" stroke="#ebebeb" stroke-width="1"/>
<line x1="302.9" x2="543.6" y1="281.5" y2="281.5" stroke="#f1f1f1" stroke-width="1"/>
<line x1="302.9" x2="543.6" y1="275.5" y2="275.5" stroke="#ebebeb" stroke-width="1"/>
<line x1="302.9" x2="543.6" y1="269.5" y2="269.5" stroke="#f1f1f1" stroke-width="1"/>
<line x1="302.9" x2="543.6" y1="264.5" y2="264.5" stroke="#ebebeb" stroke-width="1"/>
<line x1="309.5" x2="309.5" y1="261" y2="361" stroke="#e3e3e3" stroke-width="1"/>
<line x1="336.5" x2="336.5" y1="261" y2="361" stroke="#e3e3e3" stroke-width="1"/>
<line x1="363.5" x2="363.5" y1="261" y2="361" stroke="#e3e3e3" stroke-width="1"/>
<line x1="391.5" x2="391.5" y1="261" y2="361" stroke="#e3e3e3" stroke-width="1"/>
<line x1="418.5" x2="418.5" y1="261" y2="361" stroke="#e3e3e3" stroke-width="1"/>
<line x1="445.5" x2="445.5" y1="261" y2="361" stroke="#e3e3e3" stroke-width="1"/>
<line x1="472.5" x2="472.5" y1="261" y2="361" stroke="#e3e3e3" stroke-width="1"/>
<line x1="500.5" x2="500.5" y1="261" y2="361" stroke="#e3e3e3" stroke-width="1"/>
<line x1="527.5" x2="527.5" y1="261" y2="361" stroke="#e3e3e3" stroke-width="1"/>
<line x1="302.9" x2="543.6" y1="311.4" y2="311.4" stroke="#c2c2c2" stroke-width="1.4"/>
<line x1="302.9" x2="543.6" y1="300.5" y2="300.5" stroke="#969696" stroke-width="0.8" stroke-dasharray="2.8 2.8"/>
<line x1="302.9" x2="543.6" y1="298.5" y2="298.5" stroke="#5454ff" stroke-width="1.1" stroke-dasharray="1 1" stroke-dashoffset="0.9"/>
<line x1="302.9" x2="543.6" y1="302.5" y2="302.5" stroke="#5454ff" stroke-width="1.1" stroke-dasharray="1 1" stroke-dashoffset="0.9"/>
<line x1="302.9" x2="543.6" y1="317.7" y2="317.7" stroke="#969696" stroke-width="0.8" stroke-dasharray="2.8 2.8"/>
<line x1="302.9" x2="543.6" y1="316.3" y2="316.3" stroke="#5454ff" stroke-width="1.1" stroke-dasharray="1 1" stroke-dashoffset="0.9"/>
<line x1="302.9" x2="543.6" y1="319.2" y2="319.2" stroke="#5454ff" stroke-width="1.1" stroke-dasharray="1 1" stroke-dashoffset="0.9"/>
<line x1="302.9" x2="543.6" y1="307.6" y2="307.6" stroke="#ffa010" stroke-width="1" stroke-dasharray="0.7 0.66"/>
<line x1="302.9" x2="543.6" y1="310.7" y2="310.7" stroke="#ffa010" stroke-width="1" stroke-dasharray="0.7 0.66"/>
<line x1="302.9" x2="543.6" y1="309.1" y2="309.1" stroke="#ff3434" stroke-width="1" stroke-dasharray="3.3 2.5"/>
<circle cx="316" cy="309.6" r="2.2" fill="#1e96ff"/>
<circle cx="318.8" cy="306" r="2.2" fill="#1e96ff"/>
<circle cx="332.6" cy="310" r="2.2" fill="#2a1cf6"/>
<circle cx="340" cy="307.4" r="2.2" fill="#a21ef8"/>
<circle cx="346.2" cy="306" r="2.2" fill="#2a1cf6"/>
<circle cx="349.6" cy="299" r="2.2" fill="#1e96ff"/>
<circle cx="351.2" cy="304.4" r="2.2" fill="#a21ef8"/>
<circle cx="355.2" cy="302" r="2.2" fill="#1e96ff"/>
<circle cx="356.8" cy="297.6" r="2.2" fill="#1e96ff"/>
<circle cx="358" cy="311" r="2.2" fill="#14e87a"/>
<circle cx="359.4" cy="310" r="2.2" fill="#fb1620"/>
<circle cx="361" cy="312" r="2.2" fill="#fb1620"/>
<circle cx="358.6" cy="312" r="2.2" fill="#a21ef8"/>
<circle cx="362.2" cy="315.6" r="2.2" fill="#2a1cf6"/>
<circle cx="365.6" cy="310.6" r="2.2" fill="#2bee2b"/>
<circle cx="367.6" cy="309.4" r="2.2" fill="#2bee2b"/>
<circle cx="369" cy="304" r="2.2" fill="#2a1cf6"/>
<circle cx="371" cy="308.6" r="2.2" fill="#ff6314"/>
<circle cx="372.6" cy="318" r="2.2" fill="#fb1620"/>
<circle cx="374.4" cy="318.8" r="2.2" fill="#fb1620"/>
<circle cx="376.2" cy="307" r="2.2" fill="#ffc814"/>
<circle cx="378.2" cy="311" r="2.2" fill="#2a1cf6"/>
<circle cx="379" cy="306" r="2.2" fill="#2a1cf6"/>
<circle cx="378.6" cy="308.6" r="2.2" fill="#2a1cf6"/>
<circle cx="379.2" cy="302.4" r="2.2" fill="#ff2ad8"/>
<circle cx="382.2" cy="304" r="2.2" fill="#ff1f9c"/>
<circle cx="383" cy="307.4" r="2.2" fill="#ff6314"/>
<circle cx="379.8" cy="315.4" r="2.2" fill="#ff6314"/>
<circle cx="391" cy="299" r="2.2" fill="#ffc814"/>
<circle cx="392" cy="312.5" r="2.2" fill="#14e87a"/>
<circle cx="392.2" cy="311.4" r="2.2" fill="#fb1620"/>
<circle cx="395" cy="311.8" r="2.2" fill="#fb1620"/>
<circle cx="394.4" cy="310.2" r="2.2" fill="#ff1f9c"/>
<circle cx="398.2" cy="305" r="2.2" fill="#fb1620"/>
<circle cx="399.4" cy="303.6" r="2.2" fill="#fb1620"/>
<circle cx="401.6" cy="310" r="2.2" fill="#fb1620"/>
<circle cx="407.2" cy="305.4" r="2.2" fill="#ff6314"/>
<circle cx="409.6" cy="318.8" r="2.2" fill="#ffc814"/>
<circle cx="415" cy="313" r="2.2" fill="#b2ee1e"/>
<circle cx="417.2" cy="311.6" r="2.2" fill="#ff2ad8"/>
<circle cx="427.8" cy="308.4" r="2.2" fill="#ff1a6e"/>
<circle cx="430.4" cy="307.4" r="2.2" fill="#2bee2b"/>
<circle cx="445.6" cy="304.2" r="2.2" fill="#b2ee1e"/>
<circle cx="448.6" cy="310.8" r="2.2" fill="#b2ee1e"/>
<circle cx="458.8" cy="308.6" r="2.2" fill="#b2ee1e"/>
<circle cx="475.6" cy="310.8" r="2.2" fill="#2bee2b"/>
<circle cx="479" cy="310.8" r="2.2" fill="#2bee2b"/>
<circle cx="497" cy="309.6" r="2.2" fill="#2bee2b"/>
<circle cx="499.4" cy="310" r="2.2" fill="#2bee2b"/>
<circle cx="505.6" cy="306.4" r="2.2" fill="#ffc814"/>
<circle cx="512.8" cy="308.2" r="2.2" fill="#2bee2b"/>
<circle cx="515" cy="304.4" r="2.2" fill="#b2ee1e"/>
<circle cx="529.4" cy="310" r="2.2" fill="#ffc814"/>
<text transform="translate(297.4,268.18) scale(0.86,1)" font-size="6.6" text-anchor="end">16</text>
<text transform="translate(297.4,280.38) scale(0.86,1)" font-size="6.6" text-anchor="end">12</text>
<text transform="translate(297.4,291.38) scale(0.86,1)" font-size="6.6" text-anchor="end">8</text>
<text transform="translate(297.4,303.18) scale(0.86,1)" font-size="6.6" text-anchor="end">4</text>
<text transform="translate(297.4,314.68) scale(0.86,1)" font-size="6.6" text-anchor="end">0</text>
<text transform="translate(297.4,325.78) scale(0.86,1)" font-size="6.6" text-anchor="end">−4</text>
<text transform="translate(297.4,337.18) scale(0.86,1)" font-size="6.6" text-anchor="end">−8</text>
<text transform="translate(297.4,349.18) scale(0.86,1)" font-size="6.6" text-anchor="end">−12</text>
<text transform="translate(297.4,361.18) scale(0.86,1)" font-size="6.6" text-anchor="end">−16</text>
<text transform="translate(309.4,368.58) scale(0.86,1)" font-size="6.6" text-anchor="middle">28</text>
<text transform="translate(336.65,368.58) scale(0.86,1)" font-size="6.6" text-anchor="middle">30</text>
<text transform="translate(363.9,368.58) scale(0.86,1)" font-size="6.6" text-anchor="middle">32</text>
<text transform="translate(391.15,368.58) scale(0.86,1)" font-size="6.6" text-anchor="middle">34</text>
<text transform="translate(418.4,368.58) scale(0.86,1)" font-size="6.6" text-anchor="middle">36</text>
<text transform="translate(445.65,368.58) scale(0.86,1)" font-size="6.6" text-anchor="middle">38</text>
<text transform="translate(472.9,368.58) scale(0.86,1)" font-size="6.6" text-anchor="middle">40</text>
<text transform="translate(500.15,368.58) scale(0.86,1)" font-size="6.6" text-anchor="middle">42</text>
<text transform="translate(527.4,368.58) scale(0.86,1)" font-size="6.6" text-anchor="middle">44</text>
<text x="424.2" y="256.3" font-size="8.4" text-anchor="middle">Walking</text>
</g>
<text x="293.1" y="381.1" font-size="9.93" text-anchor="middle">Mean of Measurements (<tspan font-style="italic">steps</tspan>)</text>
<text transform="translate(12.6,187.1) rotate(-90)" font-size="9.92" text-anchor="middle">Estimated vs Real Step Count</text>
</svg>
</body></html>
